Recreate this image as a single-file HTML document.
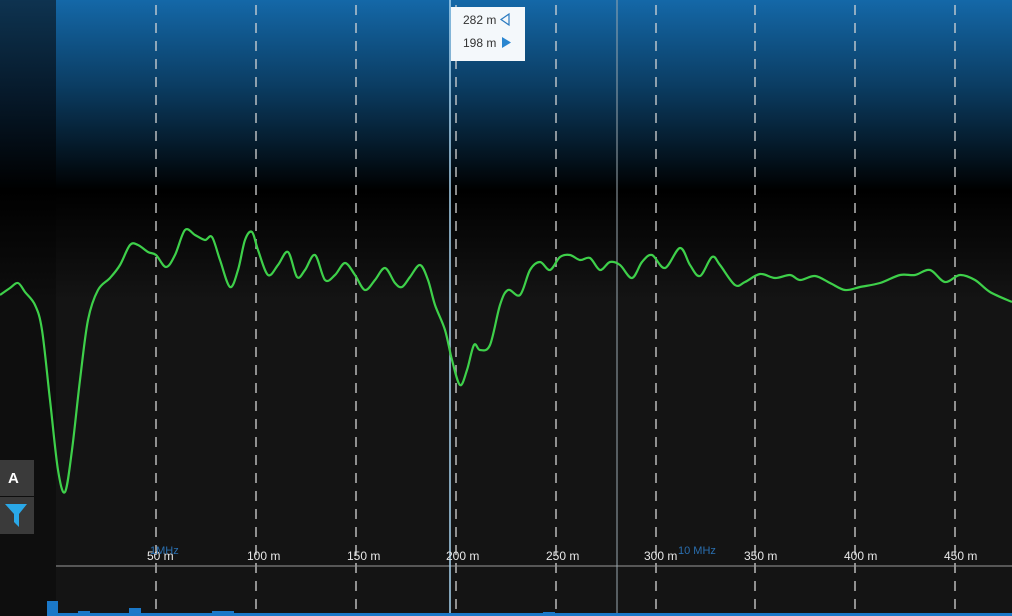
<!DOCTYPE html>
<html><head><meta charset="utf-8"><style>
html,body{margin:0;padding:0;width:1012px;height:616px;overflow:hidden;background:#141414;font-family:"Liberation Sans",sans-serif}
</style></head><body>
<svg id="s" width="1012" height="616" viewBox="0 0 1012 616" xmlns="http://www.w3.org/2000/svg" style="position:absolute;left:0;top:0">
<defs>
<linearGradient id="g1" x1="0" y1="0" x2="0" y2="1">
<stop offset="0" stop-color="#1468a8"/><stop offset="0.45" stop-color="#0b3d63"/><stop offset="1" stop-color="#000"/>
</linearGradient>
<linearGradient id="g2" x1="0" y1="0" x2="0" y2="1">
<stop offset="0" stop-color="#0e3350"/><stop offset="0.5" stop-color="#06192a"/><stop offset="1" stop-color="#000"/>
</linearGradient>
<linearGradient id="g3" x1="0" y1="0" x2="0" y2="1">
<stop offset="0" stop-color="#000"/><stop offset="1" stop-color="#141414"/>
</linearGradient>
<linearGradient id="g4" x1="0" y1="0" x2="0" y2="1">
<stop offset="0" stop-color="#000"/><stop offset="1" stop-color="#0e0e0e"/>
</linearGradient>
</defs>
<rect x="0" y="0" width="1012" height="616" fill="#141414"/>
<rect x="56" y="0" width="956" height="190" fill="url(#g1)"/>
<rect x="56" y="190" width="956" height="110" fill="url(#g3)"/>
<rect x="0" y="0" width="56" height="190" fill="url(#g2)"/>
<rect x="0" y="190" width="56" height="110" fill="url(#g4)"/>
<rect x="0" y="300" width="56" height="316" fill="#0e0e0e"/>
<g stroke="#d8d8d8" stroke-width="1.5" stroke-dasharray="10 8" opacity="0.85">
<line x1="156" y1="5" x2="156" y2="616"/><line x1="256" y1="5" x2="256" y2="616"/>
<line x1="356" y1="5" x2="356" y2="616"/><line x1="456" y1="5" x2="456" y2="616"/>
<line x1="556" y1="5" x2="556" y2="616"/><line x1="656" y1="5" x2="656" y2="616"/>
<line x1="755" y1="5" x2="755" y2="616"/><line x1="855" y1="5" x2="855" y2="616"/>
<line x1="955" y1="5" x2="955" y2="616"/>
</g>
<line x1="56" y1="566" x2="1012" y2="566" stroke="#9a9a9a" stroke-width="1"/>
<line x1="450" y1="0" x2="450" y2="616" stroke="#a8d4f0" stroke-width="1.5"/>
<line x1="617" y1="0" x2="617" y2="616" stroke="#9aa8b0" stroke-width="1"/>
<polyline id="pl" fill="none" stroke="#3ed04a" stroke-width="2.2" stroke-linejoin="round" points="0,295 10,288 18,283 25,292 35,305 42,330 50,400 58,470 65,492 72,450 80,380 88,320 98,290 110,278 120,265 130,245 138,245 148,252 156,255 166,267 175,255 185,230 195,235 205,240 212,237 220,260 230,287 238,270 245,240 252,232 258,250 268,275 278,265 288,252 297,277 305,270 315,255 325,280 335,275 345,263 355,275 365,290 375,280 385,268 395,283 402,287 410,277 420,265 428,280 435,305 445,330 452,360 460,385 467,370 474,345 480,350 490,345 500,305 508,290 520,295 530,270 540,262 550,270 560,257 570,255 580,260 590,258 600,270 610,262 620,265 632,278 642,262 652,255 665,268 680,248 690,265 700,276 712,257 720,265 735,285 745,282 760,274 775,278 790,275 800,280 815,276 830,283 845,290 860,287 880,283 900,275 915,275 930,270 945,282 960,275 975,280 990,292 1012,302"/>
<g fill="#1b78c8">
<rect x="47" y="601" width="11" height="15"/><rect x="78" y="611" width="12" height="5"/><rect x="129" y="608" width="12" height="8"/>
<rect x="212" y="611" width="22" height="5"/><rect x="543" y="612" width="12" height="4"/>
<rect x="56" y="613" width="956" height="3"/>
</g>
<g font-size="12" fill="#e8e8e8">
<text x="147" y="560">50 m</text><text x="247" y="560">100 m</text><text x="347" y="560">150 m</text>
<text x="446" y="560">200 m</text><text x="546" y="560">250 m</text><text x="644" y="560">300 m</text>
<text x="744" y="560">350 m</text><text x="844" y="560">400 m</text><text x="944" y="560">450 m</text>
</g>
<g font-size="11" fill="#2a6fb0"><text x="150" y="554">1MHz</text><text x="678" y="554">10 MHz</text></g>
<rect x="0" y="460" width="34" height="36" fill="#3a3a3a"/>
<rect x="0" y="497" width="34" height="37" fill="#3a3a3a"/>
<text x="8" y="483" font-size="15" font-weight="bold" fill="#fff">A</text>
<path d="M5,504 L27,504 L19,514 L19,527 L14,522 L14,514 Z" fill="#2aa8e8"/>
<rect x="451" y="7" width="74" height="54" fill="#f4f8fb"/>
<text x="463" y="24" font-size="12" fill="#333">282 m</text>
<path d="M509,19.5 L509,14 L501,19.5 L509,25 Z" fill="none" stroke="#2a7ac0" stroke-width="1.2"/>
<text x="463" y="47" font-size="12" fill="#333">198 m</text>
<path d="M502,37 L511,42.5 L502,48 Z" fill="#2a86d0"/>
</svg>
<script>
(function(){
var pl=document.getElementById('pl');
var pts=pl.getAttribute('points').trim().split(/\s+/).map(function(p){return p.split(',').map(Number);});
var d='M'+pts[0][0]+','+pts[0][1];
for(var i=0;i<pts.length-1;i++){
var p0=pts[i-1]||pts[i],p1=pts[i],p2=pts[i+1],p3=pts[i+2]||p2;
var c1x=p1[0]+(p2[0]-p0[0])/6,c1y=p1[1]+(p2[1]-p0[1])/6;
var c2x=p2[0]-(p3[0]-p1[0])/6,c2y=p2[1]-(p3[1]-p1[1])/6;
d+=' C'+c1x.toFixed(1)+','+c1y.toFixed(1)+' '+c2x.toFixed(1)+','+c2y.toFixed(1)+' '+p2[0]+','+p2[1];
}
var path=document.createElementNS('http://www.w3.org/2000/svg','path');
path.setAttribute('d',d);path.setAttribute('fill','none');path.setAttribute('stroke','#3ed04a');path.setAttribute('stroke-width','2.2');
pl.parentNode.replaceChild(path,pl);
})();
</script>
</body></html>
